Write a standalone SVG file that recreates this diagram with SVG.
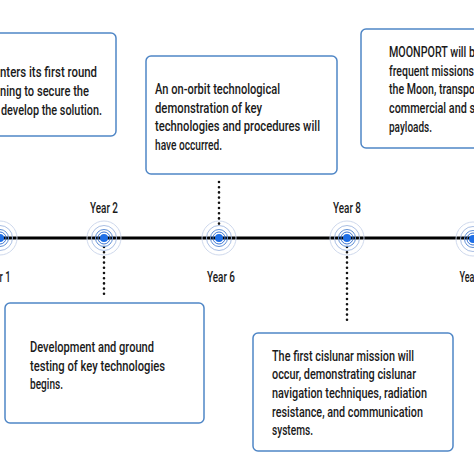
<svg xmlns="http://www.w3.org/2000/svg" xmlns:xlink="http://www.w3.org/1999/xlink" width="474" height="474" viewBox="0 0 474 474">
<style>
.box{fill:#ffffff;stroke:#4f86c6;stroke-width:1.5}
.t{font-family:Roboto,"Liberation Sans",sans-serif;font-size:15px;font-weight:500;fill:#1a1a1a}
.lbl{font-family:Roboto,"Liberation Sans",sans-serif;font-size:14px;font-weight:500;fill:#1a1a1a;text-anchor:middle}
.dots{stroke:#111;stroke-width:2.6;stroke-linecap:round;stroke-dasharray:0 5.2;fill:none}
.axis{stroke:#000;stroke-width:3}
</style>
<defs>
<g id="pulse">
<circle r="17" fill="none" stroke="#c9d5ea" stroke-width="0.9"/>
<circle r="12.5" fill="none" stroke="#9fb7e0" stroke-width="0.9"/>
<circle r="8.5" fill="none" stroke="#5f8fd6" stroke-width="1"/>
<circle r="6" fill="none" stroke="#3a74d2" stroke-width="1"/>
<circle r="4" fill="#1f6fe6"/>
</g>
</defs>
<rect width="474" height="474" fill="#ffffff"/>
<g id="connectors">
<line class="axis" x1="0" y1="238" x2="474" y2="238"/>
<line class="dots" x1="219" y1="182" x2="219" y2="228"/>
<line class="dots" x1="104" y1="247" x2="104" y2="298"/>
<line class="dots" x1="347" y1="247" x2="347" y2="324"/>
</g>
<g id="node-year1">
<use xlink:href="#pulse" x="0" y="238"/>
<text class="lbl" x="5" y="282" textLength="11" lengthAdjust="spacingAndGlyphs">r 1</text>
</g>
<g id="node-year2">
<use xlink:href="#pulse" x="104" y="238"/>
<text class="lbl" x="104" y="213" textLength="28" lengthAdjust="spacingAndGlyphs">Year 2</text>
</g>
<g id="node-year6">
<use xlink:href="#pulse" x="219" y="238"/>
<text class="lbl" x="221" y="282" textLength="28" lengthAdjust="spacingAndGlyphs">Year 6</text>
</g>
<g id="node-year8">
<use xlink:href="#pulse" x="347" y="238"/>
<text class="lbl" x="347" y="213" textLength="28" lengthAdjust="spacingAndGlyphs">Year 8</text>
</g>
<g id="node-year10">
<use xlink:href="#pulse" x="473" y="239"/>
<text class="lbl" x="467" y="282" textLength="15" lengthAdjust="spacingAndGlyphs">Yea</text>
</g>
<g id="box-funding">
<rect class="box" x="-10" y="33" width="126" height="103" rx="5"/>
<text class="t" x="0" y="77" textLength="97" lengthAdjust="spacingAndGlyphs">nters its first round</text>
<text class="t" x="0" y="96" textLength="89" lengthAdjust="spacingAndGlyphs">ning to secure the</text>
<text class="t" x="1" y="115" textLength="101" lengthAdjust="spacingAndGlyphs">develop the solution.</text>
</g>
<g id="box-onorbit">
<rect class="box" x="146" y="56" width="191" height="118" rx="5"/>
<text class="t" x="155" y="94" textLength="125" lengthAdjust="spacingAndGlyphs">An on-orbit technological</text>
<text class="t" x="155" y="113" textLength="107" lengthAdjust="spacingAndGlyphs">demonstration of key</text>
<text class="t" x="155" y="131" textLength="165" lengthAdjust="spacingAndGlyphs">technologies and procedures will</text>
<text class="t" x="155" y="150" textLength="67" lengthAdjust="spacingAndGlyphs">have occurred.</text>
</g>
<g id="box-moonport">
<rect class="box" x="361" y="29" width="130" height="119" rx="5"/>
<text class="t" x="389" y="57" textLength="86" lengthAdjust="spacingAndGlyphs">MOONPORT will b</text>
<text class="t" x="389" y="76" textLength="85" lengthAdjust="spacingAndGlyphs">frequent missions</text>
<text class="t" x="389" y="94" textLength="86" lengthAdjust="spacingAndGlyphs">the Moon, transpo</text>
<text class="t" x="389" y="113" textLength="86" lengthAdjust="spacingAndGlyphs">commercial and s</text>
<text class="t" x="389" y="132" textLength="43" lengthAdjust="spacingAndGlyphs">payloads.</text>
</g>
<g id="box-development">
<rect class="box" x="5" y="303" width="199" height="120" rx="5"/>
<text class="t" x="30" y="352" textLength="124" lengthAdjust="spacingAndGlyphs">Development and ground</text>
<text class="t" x="30" y="371" textLength="135" lengthAdjust="spacingAndGlyphs">testing of key technologies</text>
<text class="t" x="30" y="389" textLength="33" lengthAdjust="spacingAndGlyphs">begins.</text>
</g>
<g id="box-cislunar">
<rect class="box" x="253" y="333" width="200" height="118" rx="5"/>
<text class="t" x="272" y="361" textLength="142" lengthAdjust="spacingAndGlyphs">The first cislunar mission will</text>
<text class="t" x="272" y="379" textLength="144" lengthAdjust="spacingAndGlyphs">occur, demonstrating cislunar</text>
<text class="t" x="272" y="398" textLength="155" lengthAdjust="spacingAndGlyphs">navigation techniques, radiation</text>
<text class="t" x="272" y="417" textLength="151" lengthAdjust="spacingAndGlyphs">resistance, and communication</text>
<text class="t" x="272" y="435" textLength="41" lengthAdjust="spacingAndGlyphs">systems.</text>
</g>
</svg>
